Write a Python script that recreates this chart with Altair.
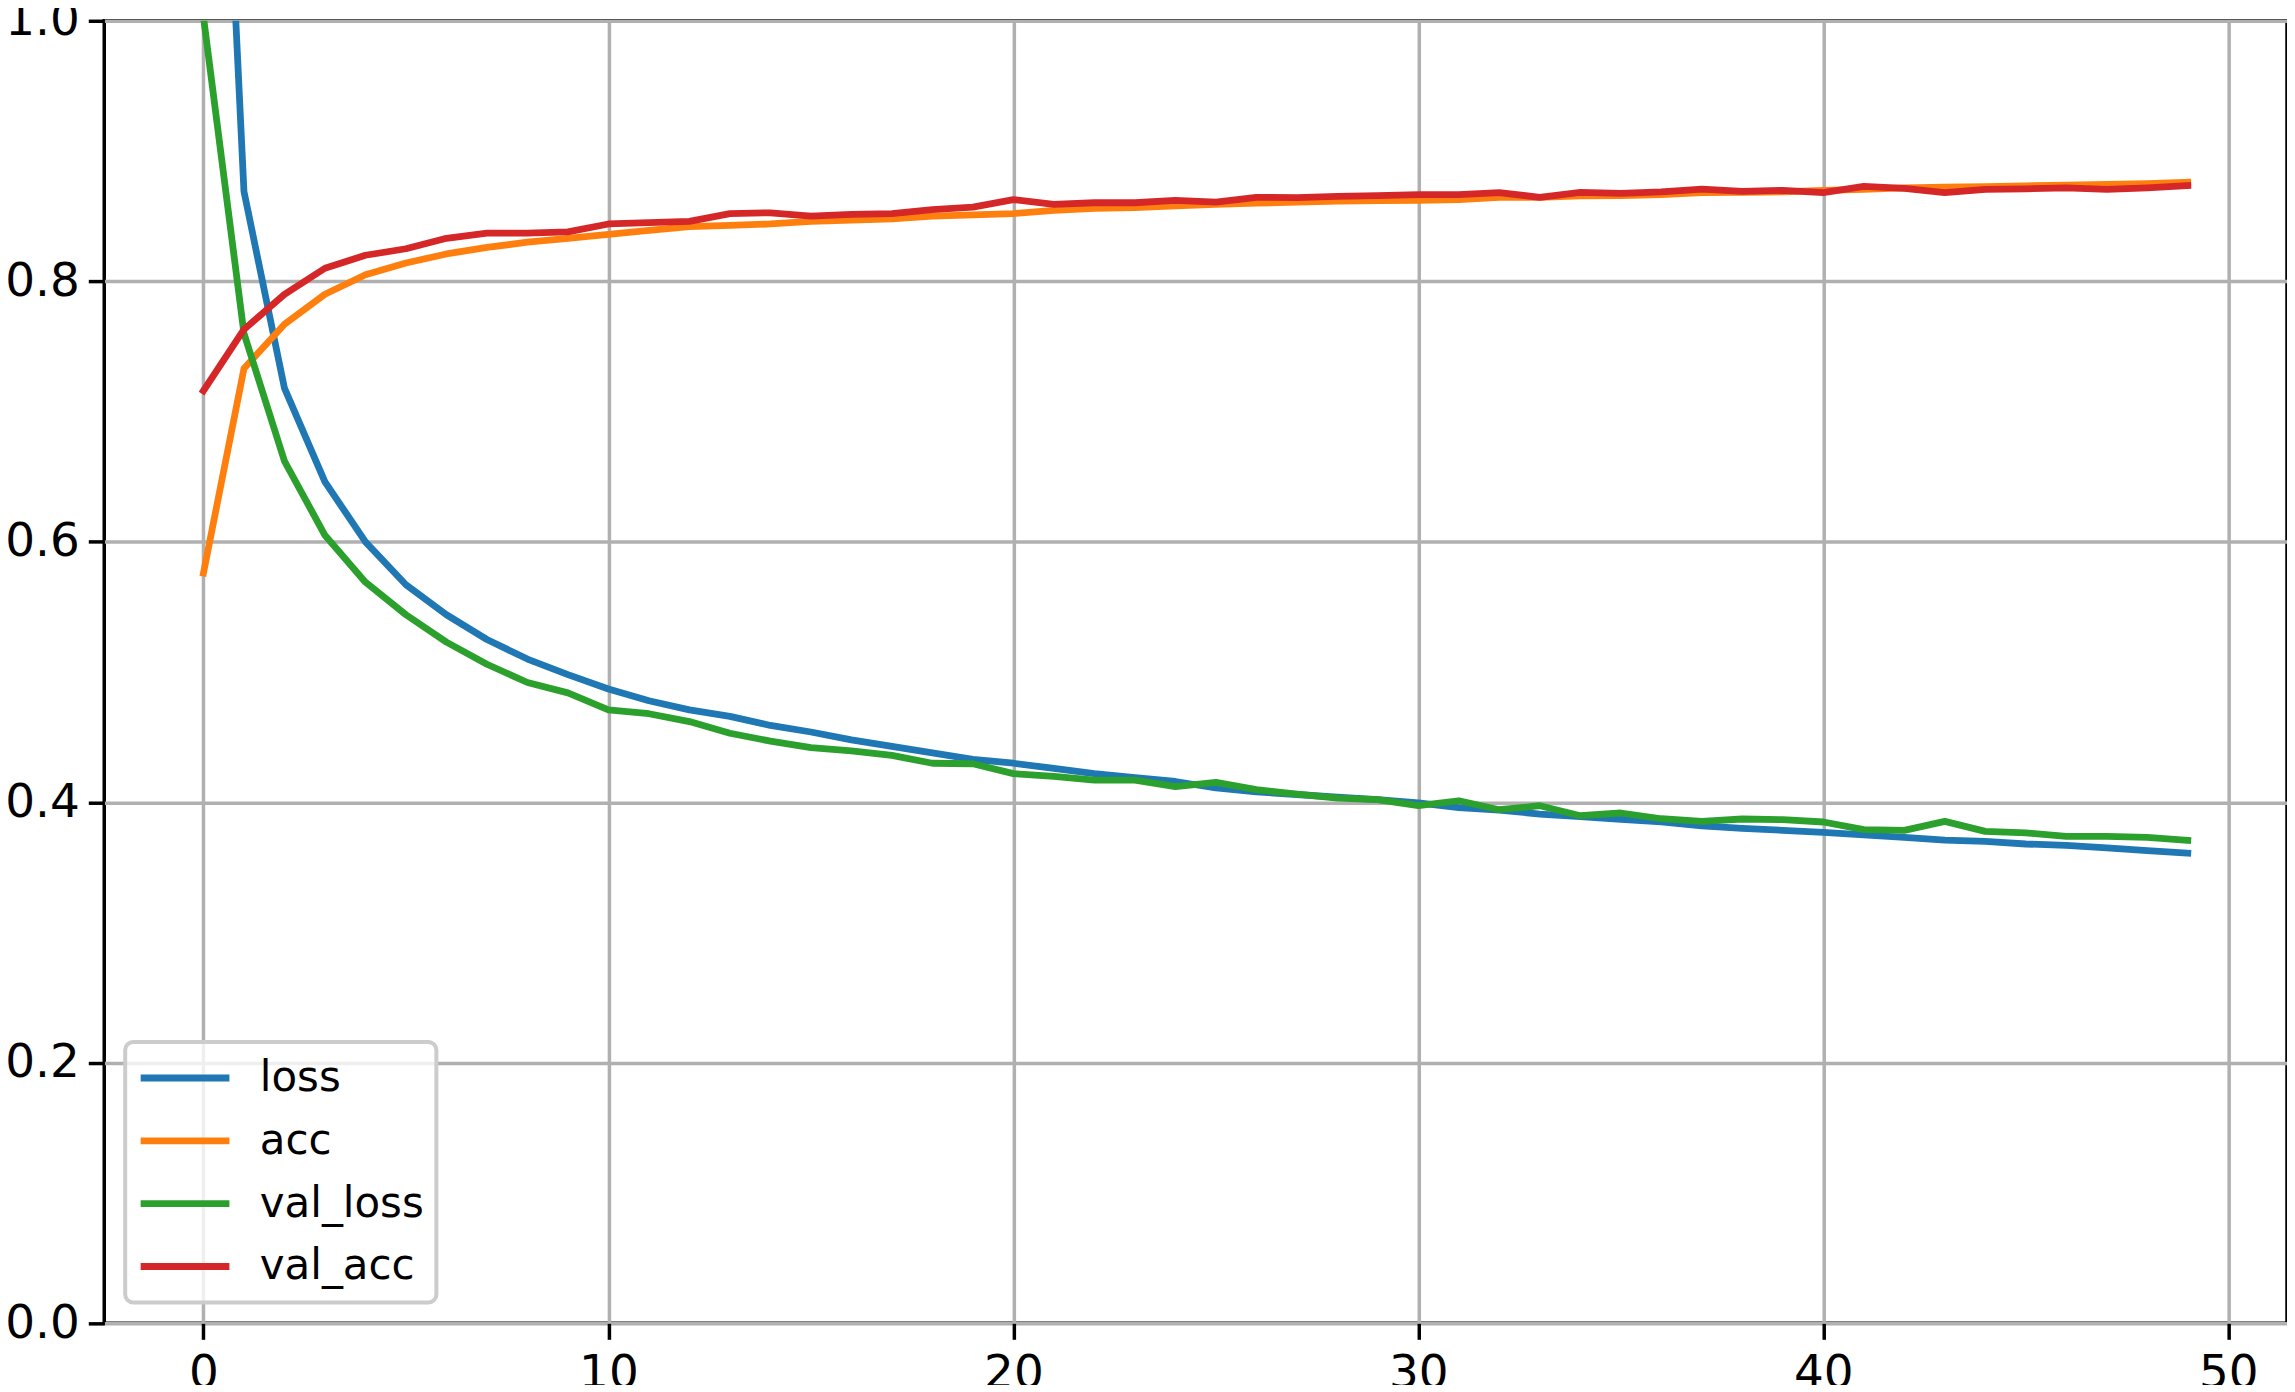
import altair as alt
import pandas as pd

epochs = list(range(50))
series_names = ["loss", "acc", "val_loss", "val_acc"]
series_colors = ["#1f77b4", "#ff7f0e", "#2ca02c", "#d62728"]

loss = [1.52, 0.869, 0.718, 0.646, 0.600, 0.567, 0.544, 0.525, 0.510, 0.498,
        0.487, 0.478, 0.471, 0.466, 0.459, 0.454, 0.448, 0.443, 0.438, 0.433,
        0.430, 0.426, 0.422, 0.419, 0.416, 0.411, 0.408, 0.406, 0.404, 0.402,
        0.3995, 0.396, 0.394, 0.391, 0.389, 0.387, 0.385, 0.382, 0.380, 0.3785,
        0.377, 0.375, 0.373, 0.371, 0.370, 0.368, 0.367, 0.365, 0.363, 0.361]
acc = [0.576, 0.733, 0.767, 0.790, 0.805, 0.814, 0.821, 0.826, 0.830, 0.833,
       0.836, 0.839, 0.842, 0.843, 0.844, 0.846, 0.847, 0.848, 0.850, 0.851,
       0.852, 0.8545, 0.856, 0.8565, 0.858, 0.859, 0.860, 0.8607, 0.8615, 0.862,
       0.8622, 0.8628, 0.8645, 0.8645, 0.8656, 0.8658, 0.8666, 0.868, 0.8683, 0.8687,
       0.8698, 0.8705, 0.8718, 0.8722, 0.8727, 0.8733, 0.8738, 0.8744, 0.875, 0.876]
val_loss = [1.003, 0.760, 0.662, 0.605, 0.569, 0.544, 0.523, 0.506, 0.492, 0.484,
            0.471, 0.468, 0.462, 0.453, 0.447, 0.442, 0.4395, 0.436, 0.430, 0.4296,
            0.422, 0.420, 0.417, 0.417, 0.412, 0.4153, 0.4097, 0.4063, 0.4033, 0.402,
            0.3974, 0.4012, 0.3943, 0.3974, 0.3897, 0.3918, 0.3874, 0.3854, 0.3872, 0.3867,
            0.3849, 0.379, 0.3785, 0.3854, 0.3777, 0.3765, 0.3739, 0.3739, 0.3731, 0.3708]
val_acc = [0.716, 0.763, 0.790, 0.810, 0.820, 0.825, 0.833, 0.837, 0.837, 0.838,
           0.844, 0.845, 0.846, 0.852, 0.8526, 0.850, 0.8513, 0.852, 0.855, 0.857,
           0.8627, 0.859, 0.8603, 0.8603, 0.8622, 0.8607, 0.8645, 0.8643, 0.8652, 0.8658,
           0.8666, 0.8666, 0.868, 0.8645, 0.8683, 0.8675, 0.8687, 0.8708, 0.869, 0.8698,
           0.868, 0.8729, 0.8713, 0.868, 0.8705, 0.871, 0.8718, 0.8705, 0.8718, 0.8735]

x_ticks = [0, 10, 20, 30, 40, 50]
y_ticks = [0.0, 0.2, 0.4, 0.6, 0.8, 1.0]

rows = []
for name, vals in zip(series_names, [loss, acc, val_loss, val_acc]):
    for e, v in zip(epochs, vals):
        rows.append({"epoch": e, "value": v, "series": name})
df = pd.DataFrame(rows)

FONT = "DejaVu Sans"
AXIS_FS = 47
LEGEND_FS = 42

x_enc = alt.X("epoch:Q",
              scale=alt.Scale(domain=[-2.45, 51.45], nice=False, zero=False),
              axis=alt.Axis(values=x_ticks, format="d", title=None))
y_enc = alt.Y("value:Q",
              scale=alt.Scale(domain=[0, 1], nice=False, zero=False),
              axis=alt.Axis(values=y_ticks, format=".1f", title=None))
color_enc = alt.Color(
    "series:N",
    scale=alt.Scale(domain=series_names, range=series_colors),
    legend=alt.Legend(
        title=None,
        orient="bottom-left",
        direction="vertical",
        offset=21,
        symbolType="stroke",
        symbolSize=89 * 89,
        symbolStrokeWidth=6.8,
        clipHeight=48,
        rowPadding=15,
        labelFont=FONT,
        labelFontSize=LEGEND_FS,
        labelColor="black",
        labelOffset=27,
        labelLimit=400,
        padding=12,
        fillColor="rgba(255,255,255,0.8)",
        strokeColor="#cccccc",
        cornerRadius=8,
    ),
)

base = alt.Chart(df)
layers = []
for name in series_names:
    layers.append(
        base.transform_filter(alt.datum.series == name)
        .mark_line(clip=True, strokeWidth=6.8, strokeJoin="round", strokeCap="square")
        .encode(x=x_enc, y=y_enc, color=color_enc)
    )

chart = (
    alt.layer(*layers)
    .properties(
        width=2188.5,
        height=1306,
        autosize=alt.AutoSizeParams(type="none"),
        padding={"left": 96.5, "top": 11, "right": 0, "bottom": 60},
        background="white",
    )
    .configure_view(stroke="black", strokeWidth=3.5)
    .configure_axis(
        labelFont=FONT,
        labelFontSize=AXIS_FS,
        labelColor="black",
        tickColor="black",
        tickWidth=3.5,
        tickSize=16,
        domain=False,
        grid=True,
        gridColor="#b0b0b0",
        gridWidth=3.5,
    )
    .configure_axisX(labelPadding=11)
    .configure_axisY(labelPadding=9)
    .configure_legend(strokeWidth=4)
)

chart.save("out.html", embed_options={"renderer": "svg", "actions": False})
